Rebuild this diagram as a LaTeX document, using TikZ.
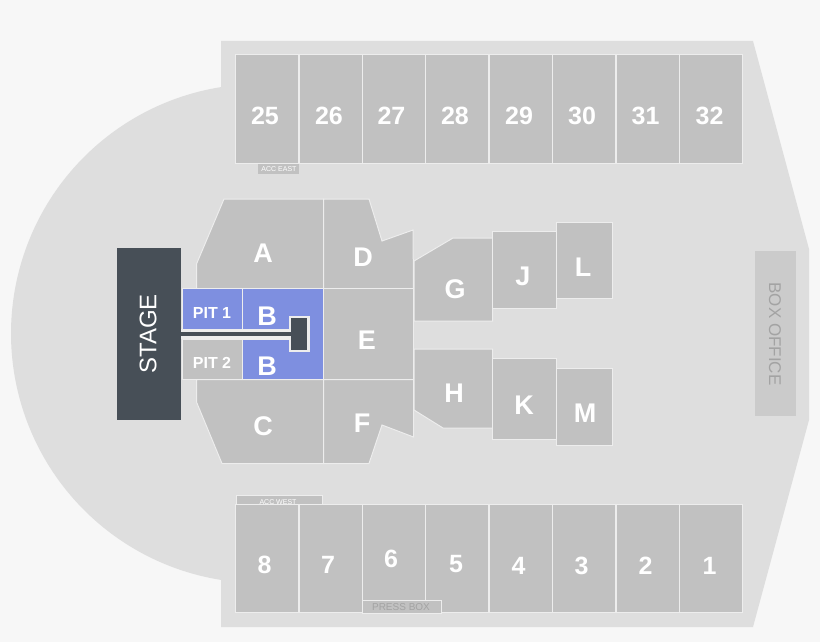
\documentclass[tikz,border=0pt]{standalone}
\usepackage{fontspec}
\setmainfont{Liberation Sans}
\definecolor{bgc}{HTML}{F7F7F7}
\definecolor{floorc}{HTML}{DEDEDE}
\definecolor{secc}{HTML}{C1C1C1}
\definecolor{pitc}{HTML}{7E8FE0}
\definecolor{stagec}{HTML}{474F57}
\definecolor{boxc}{HTML}{CBCBCB}
\definecolor{edgec}{HTML}{EDEDED}
\definecolor{greytxt}{HTML}{A3A3A3}
\tikzset{
 sec/.style={fill=secc,draw=edgec,line width=1pt,line join=miter},
 pit/.style={fill=pitc,draw=edgec,line width=1pt},
 lab/.style={font=\fontsize{25}{25}\selectfont\bfseries,text=white,inner sep=0pt},
 let/.style={font=\fontsize{27}{27}\selectfont\bfseries,text=white,inner sep=0pt},
 small/.style={font=\fontsize{16}{16}\selectfont\bfseries,text=white,inner sep=0pt},
 tiny/.style={font=\fontsize{7}{7}\selectfont,text=white,inner sep=0pt},
}
\begin{document}
\begin{tikzpicture}[x=1pt,y=-1pt]
\useasboundingbox (0,0) rectangle (820,642);
\fill[bgc] (0,0) rectangle (820,642);
\fill[floorc] (221,41) -- (753,41) -- (809,249) -- (809,420) -- (753,627) -- (221,627) -- (221,580)
  -- plot[domain=99:261,samples=120,smooth] ({260+249*cos(\x)},{333.5+249.5*sin(\x)}) -- cycle;
% small labelled tabs
\draw[sec,draw=none] (258,163) rectangle (299,174);
\node[tiny] (accE) at (279,169.5) {ACC EAST};
\draw[sec] (236,495) rectangle (322,504);
\node[tiny] (accW) at (278,502) {ACC WEST};
% upper row
\foreach \n/\x/\t/\lx in {a/235.5/25/265,b/299/26/329,c/362/27/391.5,d/425.5/28/455,e/489/29/519,f/552.5/30/582,g/616/31/645.5,h/679.5/32/709.5}{
  \draw[sec] (\x,54.5) rectangle ++(63.4,108.5);
  \node[lab] (u\n) at (\lx,116) {\t};
}
% lower row
\foreach \n/\x/\t/\y/\lx in {a/235.5/8/565/264.5,b/299/7/565/328,c/362/6/559/391,d/425.5/5/564/456,e/489/4/566/518.5,f/552.5/3/566/581.5,g/616/2/566/645.5,h/679.5/1/566/709.5}{
  \draw[sec] (\x,504) rectangle ++(63.4,108.5);
  \node[lab] (l\n) at (\lx,\y) {\t};
}
\draw[sec] (362,600.5) rectangle (441,613);
\node[font=\fontsize{10}{10}\selectfont,text=greytxt,inner sep=0pt] (press) at (401,607) {PRESS BOX};
% central blocks
\draw[sec] (224,199) -- (323.5,199) -- (323.5,288.5) -- (196.5,288.5) -- (196.5,264) -- cycle;
\draw[sec] (323.5,199) -- (369,199) -- (382,241) -- (413,230) -- (413.5,288.5) -- (323.5,288.5) -- cycle;
\draw[sec] (323.5,288.5) rectangle (413.5,379.5);
\draw[sec] (196.5,379.5) -- (323.5,379.5) -- (323.5,463.5) -- (222,463.5) -- (196.5,402) -- cycle;
\draw[sec] (323.5,379.5) -- (413.5,379.5) -- (413.5,437) -- (382,425) -- (369,463.5) -- (323.5,463.5) -- cycle;
% pit
\draw[pit] (182.5,288.5) rectangle (242.5,329);
\draw[sec] (182.5,339) rectangle (242.5,379.5);
\draw[pit] (242.5,288.5) -- (323.5,288.5) -- (323.5,379.5) -- (242.5,379.5) -- (242.5,339) -- (289,339) -- (289,351.5) -- (309,351.5) -- (309,316) -- (289,316) -- (289,329) -- (242.5,329) -- cycle;
% stage
\fill[edgec] (180,329) rectangle (291,339);
\fill[stagec] (117,248) rectangle (180.5,420);
\fill[edgec] (288.5,315.5) rectangle (309.5,352);
\fill[stagec] (291,318) rectangle (307,349.5);
\fill[stagec] (178,331.5) rectangle (292,336);
\node[font=\fontsize{24}{24}\selectfont,text=white,rotate=90,inner sep=0pt] (stage) at (148,334) {STAGE};
% right blocks
\draw[sec] (414,261) -- (453,238) -- (492.5,238) -- (492.5,321) -- (414,321) -- cycle;
\draw[sec] (414,349) -- (492.5,349) -- (492.5,428) -- (443,428) -- (414,410) -- cycle;
\draw[sec] (492.5,231) rectangle (556,308);
\draw[sec] (556,222) rectangle (612.5,298.5);
\draw[sec] (492.5,358) rectangle (556,439.5);
\draw[sec] (556,368.5) rectangle (612.5,445);
% box office
\fill[boxc] (755,251) rectangle (796,416);
\node[font=\fontsize{17}{17}\selectfont,text=greytxt,rotate=-90,inner sep=0pt] (box) at (775,334) {BOX OFFICE};
% letters
\node[let] (A) at (263,253) {A};
\node[let] (D) at (363,257) {D};
\node[let] (E) at (367,340) {E};
\node[let] (C) at (263,426) {C};
\node[let] (F) at (362,423) {F};
\node[let] (B1) at (267,316) {B};
\node[let] (B2) at (267,366) {B};
\node[small] (P1) at (212,313) {PIT 1};
\node[small] (P2) at (212,363) {PIT 2};
\node[let] (G) at (455,289) {G};
\node[let] (H) at (454,393) {H};
\node[let] (J) at (523,276) {J};
\node[let] (K) at (524,405) {K};
\node[let] (L) at (583,267) {L};
\node[let] (M) at (585,413) {M};
\end{tikzpicture}
\end{document}
